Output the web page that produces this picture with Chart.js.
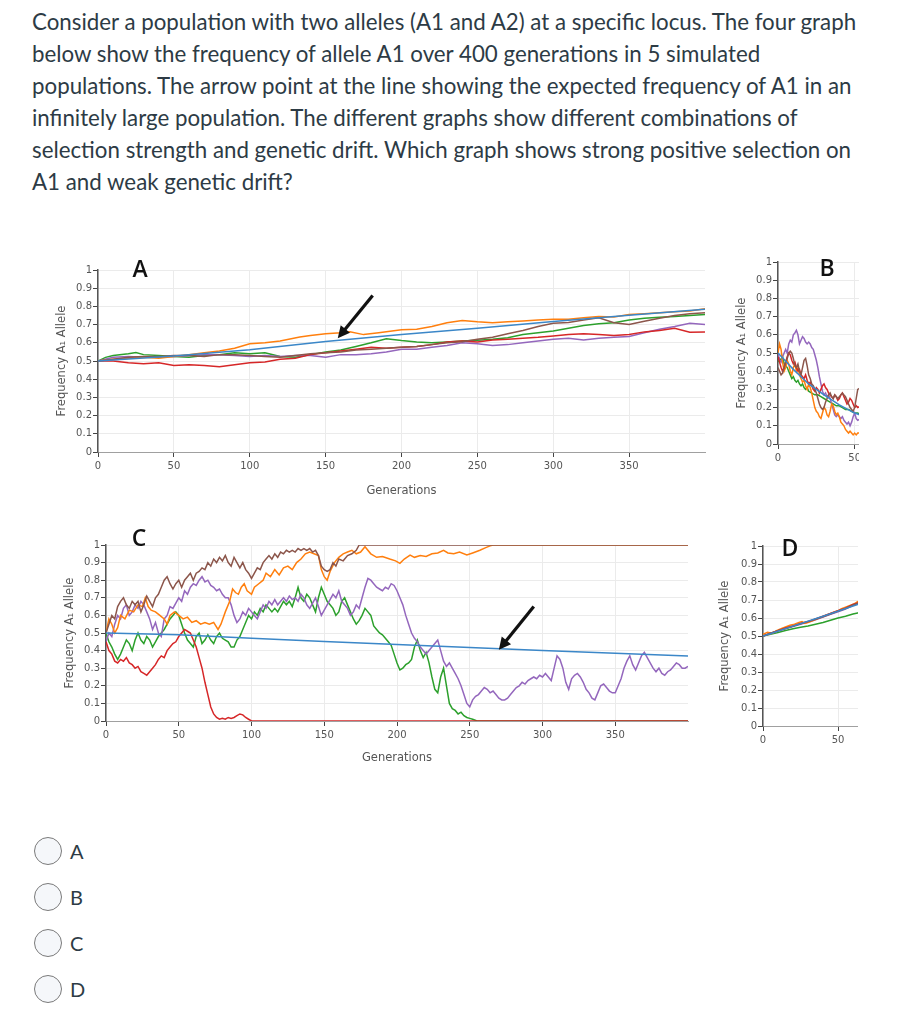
<!DOCTYPE html>
<html><head><meta charset="utf-8">
<script src="https://cdn.jsdelivr.net/npm/chart.js@4.4.1/dist/chart.umd.min.js"></script>
<style>
html,body{margin:0;padding:0;background:#fff;}
body{width:924px;height:1024px;position:relative;overflow:hidden;font-family:Lato,"Noto Sans",sans-serif;}
#q{position:absolute;left:32px;top:6px;font-size:22.3px;line-height:32px;color:#2d3b45;white-space:nowrap;}
.box{position:absolute;overflow:hidden;}
.box canvas{display:block;}
.lbl{position:absolute;font-family:"Open Sans",sans-serif;font-size:23px;font-weight:600;color:#111;line-height:1;transform:translate(-50%,-50%);}
.opt{position:absolute;left:34px;width:120px;height:28px;}
.opt .c{position:absolute;left:0;top:0;width:26px;height:26px;border:1px solid #7a7a7a;border-radius:50%;background:#f5f7fa;}
.opt span{position:absolute;left:36px;top:1px;font-size:20px;line-height:26px;color:#2d3b45;}
</style></head>
<body>
<div id="q">Consider a population with two alleles (A1 and A2) at a specific locus. The four graph<br>below show the frequency of allele A1 over 400 generations in 5 simulated<br>populations. The arrow point at the line showing the expected frequency of A1 in an<br>infinitely large population. The different graphs show different combinations of<br>selection strength and genetic drift. Which graph shows strong positive selection on<br>A1 and weak genetic drift?</div>

<div class="box" style="left:50px;top:255px;width:670px;height:250px"><canvas id="cA" width="670" height="250"></canvas></div>
<div class="box" style="left:720px;top:247px;width:139px;height:230px"><canvas id="cB" width="162" height="230"></canvas></div>
<div class="box" style="left:50px;top:525px;width:660px;height:250px"><canvas id="cC" width="660" height="250"></canvas></div>
<div class="box" style="left:700px;top:530px;width:158px;height:230px"><canvas id="cD" width="180" height="230"></canvas></div>

<div class="lbl" style="left:140px;top:268px">A</div>
<div class="lbl" style="left:827px;top:267px">B</div>
<div class="lbl" style="left:139px;top:537px">C</div>
<div class="lbl" style="left:790px;top:547px">D</div>

<div class="opt" style="top:837px"><div class="c"></div><span>A</span></div>
<div class="opt" style="top:883px"><div class="c"></div><span>B</span></div>
<div class="opt" style="top:929px"><div class="c"></div><span>C</span></div>
<div class="opt" style="top:975px"><div class="c"></div><span>D</span></div>

<script>
// ---------- data: [generation, frequency of A1] ----------
const yAxisTitle = 'Frequency A\u2081 Allele';
const xAxisTitle = 'Generations';
const xTickValues = [0, 50, 100, 150, 200, 250, 300, 350];
const yTickValues = [0, 0.1, 0.2, 0.3, 0.4, 0.5, 0.6, 0.7, 0.8, 0.9, 1];
const yTickLabels = ['0', '0.1', '0.2', '0.3', '0.4', '0.5', '0.6', '0.7', '0.8', '0.9', '1'];

// Graph A
const aExpected = [[0,.5],[50,.528],[100,.562],[150,.607],[200,.645],[250,.68],[300,.717],[350,.752],[400,.785]];
const aOrange = [[0,.5],[10,.51],[20,.515],[30,.52],[40,.515],[50,.525],[60,.535],[70,.545],[80,.555],[90,.57],[100,.595],[110,.6],[120,.61],[133,.632],[140,.64],[150,.65],[160,.655],[166,.661],[175,.645],[185,.655],[200,.672],[210,.675],[220,.69],[230,.71],[240,.722],[250,.715],[260,.71],[270,.715],[280,.72],[290,.725],[300,.73],[310,.73],[320,.738],[330,.745],[340,.742],[350,.755],[360,.76],[370,.765],[380,.77],[390,.775],[400,.787]];
const aGreen = [[0,.5],[5,.52],[10,.53],[20,.54],[25,.547],[30,.535],[40,.53],[50,.525],[60,.52],[70,.53],[80,.535],[90,.545],[100,.54],[110,.545],[120,.525],[130,.52],[140,.535],[150,.55],[160,.56],[170,.58],[180,.6],[190,.622],[200,.612],[210,.605],[220,.6],[230,.605],[240,.61],[250,.614],[260,.62],[270,.628],[280,.645],[290,.655],[300,.665],[310,.68],[320,.695],[330,.705],[340,.71],[350,.725],[360,.735],[370,.74],[380,.745],[390,.75],[400,.755]];
const aRed = [[0,.5],[10,.5],[20,.49],[30,.485],[40,.49],[50,.475],[60,.48],[70,.475],[80,.468],[90,.48],[100,.49],[110,.495],[120,.51],[130,.515],[140,.535],[150,.545],[160,.555],[170,.565],[180,.575],[190,.57],[200,.575],[210,.58],[220,.59],[230,.605],[240,.61],[250,.605],[260,.615],[270,.62],[280,.625],[290,.63],[300,.638],[310,.645],[320,.65],[330,.645],[340,.64],[350,.645],[360,.66],[370,.668],[380,.68],[390,.658],[400,.66]];
const aPurple = [[0,.5],[10,.52],[20,.525],[30,.52],[40,.52],[50,.525],[60,.53],[70,.535],[80,.535],[90,.53],[100,.525],[110,.53],[120,.525],[130,.53],[140,.53],[150,.52],[160,.535],[170,.535],[180,.54],[190,.55],[200,.565],[210,.565],[220,.575],[230,.585],[240,.6],[250,.595],[260,.585],[270,.59],[280,.6],[290,.61],[300,.62],[310,.625],[320,.615],[330,.625],[340,.63],[350,.635],[360,.655],[370,.675],[380,.69],[390,.707],[400,.7]];
const aBrown = [[0,.5],[10,.51],[20,.52],[30,.525],[40,.525],[50,.53],[60,.53],[70,.525],[80,.535],[90,.535],[100,.53],[110,.525],[120,.52],[130,.53],[140,.54],[150,.545],[160,.55],[170,.56],[180,.565],[190,.57],[200,.575],[210,.58],[220,.59],[230,.6],[240,.606],[250,.62],[260,.63],[270,.65],[280,.668],[290,.69],[300,.707],[310,.712],[320,.725],[330,.738],[340,.71],[350,.7],[360,.718],[370,.735],[380,.75],[390,.76],[400,.765]];

// Graph B
const bExpected = [[0,.5],[10,.41],[20,.33],[30,.27],[40,.215],[50,.17],[60,.14]];
const bOrange = [[0,.5],[1,.55],[2,.52],[3,.45],[4,.4],[5,.42],[6,.46],[7,.44],[8,.4],[9,.38],[10,.42],[11,.44],[12,.4],[13,.42],[14,.38],[15,.36],[16,.34],[17,.35],[18,.32],[19,.3],[20,.33],[21,.31],[22,.28],[23,.24],[24,.2],[25,.18],[26,.17],[27,.15],[28,.14],[29,.17],[30,.2],[31,.19],[32,.16],[33,.15],[34,.18],[35,.22],[36,.21],[37,.18],[38,.16],[39,.17],[40,.15],[41,.12],[42,.11],[43,.1],[44,.08],[45,.07],[46,.06],[47,.07],[48,.06],[49,.05],[50,.06],[51,.05],[52,.06],[54,.06]];
const bPurple = [[0,.5],[1,.46],[2,.45],[3,.48],[4,.5],[5,.52],[6,.5],[7,.55],[8,.57],[9,.56],[10,.6],[11,.61],[12,.625],[13,.6],[14,.55],[15,.57],[16,.59],[17,.58],[18,.56],[19,.55],[20,.56],[21,.55],[22,.53],[23,.52],[24,.49],[25,.46],[26,.42],[27,.37],[28,.33],[29,.29],[30,.27],[31,.28],[32,.26],[33,.27],[34,.25],[35,.22],[36,.19],[37,.16],[38,.15],[39,.16],[40,.15],[41,.14],[42,.15],[43,.13],[44,.12],[45,.11],[46,.12],[47,.1],[48,.12],[49,.15],[50,.17],[51,.14],[52,.13],[54,.14]];
const bRed = [[0,.48],[1,.45],[2,.42],[3,.4],[4,.42],[5,.45],[6,.48],[7,.5],[8,.49],[9,.46],[10,.44],[11,.45],[12,.42],[13,.4],[14,.41],[15,.38],[16,.37],[17,.36],[18,.38],[19,.35],[20,.33],[21,.34],[22,.32],[23,.3],[24,.29],[25,.31],[26,.3],[27,.28],[28,.3],[29,.32],[30,.33],[31,.31],[32,.3],[33,.28],[34,.27],[35,.26],[36,.25],[37,.27],[38,.26],[39,.24],[40,.25],[41,.27],[42,.28],[43,.26],[44,.24],[45,.22],[46,.23],[47,.25],[48,.24],[49,.22],[50,.2],[51,.21],[52,.2],[54,.21]];
const bBrown = [[0,.42],[1,.4],[2,.38],[3,.39],[4,.42],[5,.45],[6,.47],[7,.5],[8,.51],[9,.5],[10,.47],[11,.43],[12,.42],[13,.44],[14,.4],[15,.38],[16,.42],[17,.46],[18,.47],[19,.43],[20,.38],[21,.36],[22,.33],[23,.32],[24,.3],[25,.28],[26,.25],[27,.22],[28,.2],[29,.19],[30,.2],[31,.23],[32,.25],[33,.27],[34,.28],[35,.26],[36,.25],[37,.27],[38,.26],[39,.25],[40,.26],[41,.27],[42,.28],[43,.27],[44,.26],[45,.24],[46,.22],[47,.2],[48,.19],[49,.18],[50,.2],[51,.25],[52,.3],[54,.31]];
const bGreen = [[0,.45],[1,.47],[2,.46],[3,.48],[4,.44],[5,.43],[6,.42],[7,.4],[8,.38],[9,.36],[10,.37],[11,.35],[12,.34],[13,.35],[14,.33],[15,.32],[16,.33],[17,.31],[18,.3],[19,.31],[20,.29],[22,.28],[24,.27],[26,.27],[28,.26],[30,.25],[32,.24],[34,.23],[36,.22],[38,.21],[40,.21],[42,.2],[44,.19],[46,.19],[48,.18],[50,.17],[52,.17],[54,.16]];

// Graph C
const cExpected = [[0,.5],[50,.49],[100,.47],[150,.452],[200,.435],[250,.417],[300,.4],[350,.385],[400,.37]];
const cOrange = [[0,.5],[2,.58],[4,.55],[6,.5],[8,.53],[10,.6],[13,.58],[16,.63],[19,.62],[22,.66],[25,.65],[27,.7],[29,.65],[31,.63],[34,.62],[37,.6],[40,.58],[42,.55],[44,.6],[47,.62],[50,.6],[53,.58],[56,.59],[59,.56],[62,.57],[65,.55],[68,.56],[71,.55],[74,.56],[77,.52],[79,.55],[82,.62],[85,.68],[87,.75],[89,.73],[91,.72],[93,.76],[95,.78],[97,.74],[100,.72],[102,.76],[105,.78],[108,.8],[110,.84],[113,.82],[116,.86],[119,.83],[122,.87],[125,.88],[128,.86],[131,.9],[134,.92],[137,.95],[140,.96],[143,.95],[146,.94],[148,.86],[150,.82],[152,.8],[154,.85],[157,.9],[160,.93],[163,.95],[166,.96],[169,.97],[172,.95],[175,.96],[178,.99],[182,.95],[186,.93],[190,.935],[195,.92],[199,.91],[202,.896],[205,.92],[209,.943],[212,.93],[216,.94],[220,.935],[224,.95],[228,.955],[232,.97],[235,.955],[239,.95],[243,.96],[248,.943],[252,.955],[257,.97],[261,.985],[264,.995],[266,1],[400,1]];
const cBrown = [[0,.5],[2,.55],[4,.6],[6,.58],[8,.65],[10,.68],[12,.7],[14,.66],[16,.64],[18,.68],[20,.66],[22,.68],[24,.62],[26,.66],[28,.71],[30,.68],[32,.65],[34,.7],[36,.72],[38,.76],[40,.8],[42,.82],[44,.78],[46,.75],[48,.78],[50,.8],[52,.76],[54,.8],[56,.82],[58,.84],[60,.8],[62,.84],[64,.85],[66,.87],[68,.86],[70,.9],[72,.88],[74,.92],[76,.9],[78,.93],[80,.91],[82,.94],[84,.9],[86,.88],[88,.93],[90,.9],[92,.87],[94,.9],[96,.86],[98,.84],[100,.81],[102,.84],[104,.87],[106,.86],[108,.9],[110,.92],[112,.94],[114,.92],[116,.95],[118,.93],[120,.96],[122,.95],[124,.97],[126,.96],[128,.97],[130,.96],[132,.98],[134,.97],[136,.98],[138,.97],[140,.98],[142,.96],[144,.97],[146,.94],[148,.88],[150,.86],[152,.85],[154,.86],[156,.9],[158,.88],[160,.92],[163,.91],[166,.94],[169,.95],[172,.97],[174,1],[400,1]];
const cPurple = [[0,.45],[2,.5],[4,.48],[6,.55],[8,.6],[10,.58],[12,.64],[14,.66],[16,.6],[18,.62],[20,.66],[22,.64],[24,.68],[26,.66],[28,.62],[30,.58],[32,.52],[34,.56],[36,.5],[38,.48],[40,.58],[42,.6],[44,.65],[46,.64],[48,.67],[50,.7],[52,.68],[54,.74],[56,.72],[58,.76],[60,.78],[62,.77],[64,.8],[66,.82],[68,.79],[70,.8],[72,.77],[74,.76],[76,.74],[78,.75],[80,.72],[82,.7],[84,.7],[86,.66],[88,.6],[90,.56],[92,.58],[94,.62],[96,.6],[98,.64],[100,.62],[102,.6],[104,.58],[106,.62],[108,.66],[110,.64],[112,.68],[114,.66],[116,.69],[118,.66],[120,.68],[122,.7],[124,.68],[126,.71],[128,.69],[130,.7],[132,.68],[134,.72],[136,.7],[138,.66],[140,.64],[142,.67],[144,.7],[146,.65],[148,.6],[150,.63],[152,.66],[154,.69],[156,.72],[158,.7],[160,.74],[162,.68],[164,.66],[166,.64],[168,.6],[170,.62],[172,.66],[174,.64],[176,.7],[178,.76],[180,.81],[182,.8],[184,.78],[186,.76],[188,.75],[190,.74],[192,.76],[194,.75],[196,.78],[198,.77],[200,.74],[202,.7],[204,.66],[206,.6],[208,.55],[210,.5],[212,.47],[214,.45],[216,.42],[218,.4],[220,.38],[222,.4],[224,.42],[226,.44],[228,.46],[230,.4],[232,.34],[234,.31],[236,.33],[238,.3],[240,.27],[242,.24],[244,.2],[246,.15],[248,.1],[250,.08],[252,.12],[254,.14],[256,.15],[258,.17],[260,.19],[262,.18],[264,.16],[266,.17],[268,.15],[270,.13],[272,.12],[274,.12],[276,.13],[278,.15],[280,.17],[282,.19],[284,.2],[286,.22],[288,.21],[290,.23],[292,.24],[294,.25],[296,.24],[298,.26],[300,.25],[302,.27],[304,.25],[306,.23],[308,.3],[310,.37],[312,.35],[314,.3],[316,.22],[318,.18],[320,.24],[322,.26],[324,.27],[326,.25],[328,.22],[330,.18],[332,.16],[334,.13],[336,.12],[338,.16],[340,.2],[342,.21],[344,.19],[346,.17],[348,.16],[350,.16],[352,.2],[354,.24],[356,.3],[358,.34],[360,.37],[362,.32],[364,.29],[366,.33],[368,.37],[370,.39],[372,.36],[374,.33],[376,.3],[378,.28],[380,.3],[382,.27],[384,.26],[386,.28],[388,.29],[390,.31],[392,.33],[394,.32],[396,.3],[398,.3],[400,.31]];
const cGreen = [[0,.5],[2,.45],[4,.42],[6,.38],[8,.35],[10,.38],[12,.42],[14,.46],[16,.44],[18,.4],[20,.46],[22,.5],[24,.46],[26,.44],[28,.48],[30,.46],[32,.42],[34,.45],[36,.48],[38,.5],[40,.52],[42,.55],[44,.58],[46,.6],[48,.62],[50,.6],[52,.55],[54,.5],[56,.46],[58,.44],[60,.42],[62,.48],[64,.5],[66,.44],[68,.46],[70,.49],[72,.46],[74,.44],[76,.48],[78,.5],[80,.47],[82,.46],[84,.45],[86,.42],[88,.42],[90,.46],[92,.48],[94,.52],[96,.56],[98,.6],[100,.58],[102,.62],[104,.6],[106,.64],[108,.62],[110,.66],[112,.64],[114,.62],[116,.64],[118,.62],[120,.65],[122,.68],[124,.66],[126,.68],[128,.65],[130,.7],[132,.76],[134,.7],[136,.68],[138,.72],[140,.7],[142,.66],[144,.62],[146,.7],[148,.76],[150,.72],[152,.68],[154,.66],[156,.64],[158,.6],[160,.62],[162,.68],[164,.7],[166,.66],[168,.62],[170,.58],[172,.55],[174,.57],[176,.6],[178,.64],[180,.62],[182,.6],[184,.54],[186,.52],[188,.5],[190,.49],[192,.47],[194,.45],[196,.43],[198,.38],[200,.33],[202,.29],[204,.3],[206,.32],[208,.33],[210,.35],[212,.42],[214,.46],[216,.4],[218,.36],[220,.39],[222,.33],[224,.25],[226,.18],[228,.16],[230,.25],[232,.3],[234,.2],[236,.1],[238,.07],[240,.06],[242,.04],[244,.05],[246,.03],[248,.02],[250,.015],[252,.01],[255,0],[400,0]];
const cRed = [[0,.45],[2,.4],[4,.38],[6,.34],[8,.33],[10,.35],[12,.34],[14,.36],[16,.33],[18,.32],[20,.3],[22,.31],[24,.28],[26,.27],[28,.26],[30,.28],[32,.3],[34,.32],[36,.35],[38,.37],[40,.36],[42,.4],[44,.42],[46,.44],[48,.45],[50,.48],[52,.5],[54,.52],[56,.51],[58,.5],[60,.46],[62,.42],[64,.36],[66,.3],[68,.22],[70,.15],[72,.08],[74,.04],[76,.02],[78,.01],[80,.015],[82,.01],[84,.02],[86,.015],[88,.02],[90,.03],[92,.04],[94,.035],[96,.02],[98,.01],[100,0],[400,0]];

// Graph D
const dExpected = [[0,.5],[20,.555],[40,.61],[70,.695]];
const dOrange = [[0,.51],[3,.52],[6,.515],[9,.53],[12,.54],[15,.55],[18,.56],[21,.565],[24,.575],[26,.58],[28,.57],[30,.575],[33,.585],[36,.595],[39,.605],[42,.615],[45,.625],[48,.635],[50,.64],[52,.65],[55,.66],[58,.67],[61,.68],[63,.69],[70,.705]];
const dGreen = [[0,.5],[5,.51],[10,.52],[15,.53],[20,.54],[25,.548],[30,.555],[35,.565],[40,.575],[45,.588],[50,.6],[55,.61],[60,.622],[70,.64]];
const dRed = [[0,.5],[5,.515],[10,.53],[15,.545],[20,.555],[25,.57],[30,.58],[35,.595],[40,.61],[45,.625],[50,.64],[55,.655],[60,.675],[70,.7]];
const dPurple = [[0,.5],[5,.512],[10,.527],[15,.54],[20,.552],[25,.565],[30,.578],[35,.59],[40,.605],[45,.62],[50,.635],[55,.65],[60,.67],[70,.695]];
const dBrown = [[0,.5],[5,.515],[10,.53],[15,.542],[20,.555],[25,.568],[30,.58],[35,.593],[40,.607],[45,.622],[50,.638],[55,.653],[60,.672],[70,.7]];

// arrows: [generation, frequency] of tail and head
const aArrow = {from:[181,.86], to:[158,.625]};
const cArrow = {from:[294,.65], to:[270,.405]};

// ---------- drawing ----------
const COL = {blue:'#3b87c8', orange:'#ff7f0e', green:'#2ca02c', red:'#d62728', purple:'#9467bd', brown:'#8c564b'};

const arrowPlugin = {
  id:'arrow',
  afterDatasetsDraw(chart, args, opts){
    if(!opts || !opts.from) return;
    const {ctx, scales:{x, y}} = chart;
    const x0 = x.getPixelForValue(opts.from[0]), y0 = y.getPixelForValue(opts.from[1]);
    const x1 = x.getPixelForValue(opts.to[0]), y1 = y.getPixelForValue(opts.to[1]);
    const a = Math.atan2(y1-y0, x1-x0), hl = 12, hw = 6;
    const bx = x1 - hl*Math.cos(a), by = y1 - hl*Math.sin(a);
    ctx.save();
    ctx.strokeStyle = '#111'; ctx.fillStyle = '#111'; ctx.lineWidth = 3.2; ctx.lineCap = 'butt';
    ctx.beginPath(); ctx.moveTo(x0,y0); ctx.lineTo(bx+2*Math.cos(a),by+2*Math.sin(a)); ctx.stroke();
    ctx.beginPath(); ctx.moveTo(x1,y1);
    ctx.lineTo(bx + hw*Math.sin(a), by - hw*Math.cos(a));
    ctx.lineTo(bx - hw*Math.sin(a), by + hw*Math.cos(a));
    ctx.closePath(); ctx.fill();
    ctx.restore();
  }
};

const tickFont = {family:'DejaVu Sans', size:10};
const titleFont = {family:'DejaVu Sans', size:11.5};

function makeChart(id, cfg){
  const series = [
    {pts:cfg.expected, color:COL.blue},
    {pts:cfg.brown, color:COL.brown},
    {pts:cfg.red, color:COL.red},
    {pts:cfg.orange, color:COL.orange},
    {pts:cfg.purple, color:COL.purple},
    {pts:cfg.green, color:COL.green}
  ];
  return new Chart(document.getElementById(id), {
    type:'line',
    data:{datasets: series.map(s => ({
      data: s.pts.map(p => ({x:p[0], y:p[1]})),
      borderColor: s.color, borderWidth: 1.5, pointRadius: 0, tension: 0, fill: false
    }))},
    options:{
      responsive:false, animation:false, events:[],
      layout:{padding:cfg.pad},
      plugins:{legend:{display:false}, tooltip:{enabled:false}, arrow: cfg.arrow || false},
      scales:{
        x:{type:'linear', min:0, max:cfg.xMax,
          afterFit: s => { s.height = cfg.xH; },
          afterBuildTicks: s => { s.ticks = xTickValues.filter(v => v <= cfg.xMax).map(v => ({value:v})); },
          ticks:{font:tickFont, color:'#555', padding:3, maxRotation:0, autoSkip:false},
          grid:{color:'#ebebeb', tickColor:'#444', tickLength:5},
          border:{color:'#a0a0a0', width:1},
          title:{display:cfg.xTitle, text:xAxisTitle, font:titleFont, color:'#555', padding:{top:0, bottom:cfg.xTitlePad}}
        },
        y:{type:'linear', min:0, max:1,
          afterFit: s => { s.width = cfg.yW; },
          afterBuildTicks: s => { s.ticks = yTickValues.map(v => ({value:v})); },
          ticks:{font:tickFont, color:'#555', padding:1, autoSkip:false,
            callback: (v, i) => yTickLabels[i]},
          grid:{color:'#ebebeb', tickColor:'#444', tickLength:5},
          border:{color:'#555', width:1.5},
          title:{display:true, text:yAxisTitle, font:titleFont, color:'#555', padding:{top:cfg.yTitlePad, bottom:0}}
        }
      }
    },
    plugins:[arrowPlugin]
  });
}

makeChart('cA', {expected:aExpected, orange:aOrange, green:aGreen, red:aRed, purple:aPurple, brown:aBrown,
  xMax:400, pad:{top:15,right:15,left:0,bottom:0}, yW:48, xH:53, xTitle:true, xTitlePad:7, yTitlePad:5, arrow:aArrow});
makeChart('cB', {expected:bExpected, orange:bOrange, green:bGreen, red:bRed, purple:bPurple, brown:bBrown,
  xMax:60, pad:{top:15,right:12,left:0,bottom:0}, yW:58, xH:33, xTitle:false, xTitlePad:0, yTitlePad:15});
makeChart('cC', {expected:cExpected, orange:cOrange, green:cGreen, red:cRed, purple:cPurple, brown:cBrown,
  xMax:400, pad:{top:20,right:22,left:0,bottom:0}, yW:56, xH:54, xTitle:true, xTitlePad:10, yTitlePad:13, arrow:cArrow});
makeChart('cD', {expected:dExpected, orange:dOrange, green:dGreen, red:dRed, purple:dPurple, brown:dBrown,
  xMax:70, pad:{top:16,right:12,left:0,bottom:0}, yW:63, xH:34, xTitle:false, xTitlePad:0, yTitlePad:18});
</script>
</body></html>
